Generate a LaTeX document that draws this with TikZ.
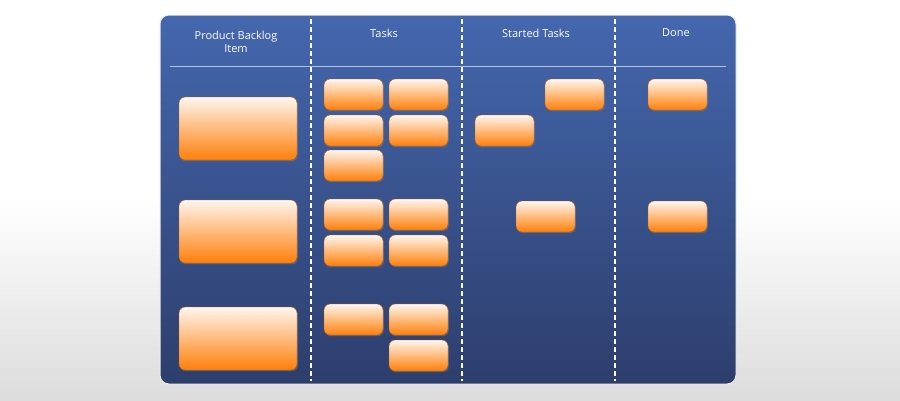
\documentclass[tikz,border=0pt]{standalone}
\usepackage{fontspec}
\setmainfont{Open Sans}
\usetikzlibrary{shadows}
\definecolor{bgtop}{HTML}{FFFFFF}
\definecolor{bgbot}{HTML}{DCDCDC}
\definecolor{boardtop}{HTML}{4467AE}
\definecolor{boardbot}{HTML}{2D3E6C}
\definecolor{cardtop}{HTML}{FFF6EE}
\definecolor{cardbot}{HTML}{FF7F0A}
\tikzset{
  px/.style={x=1pt,y=-1pt},
  card/.style={rounded corners=6pt, draw=cardbot!70!black, line width=0.4pt,
    top color=cardtop, bottom color=cardbot, drop shadow={shadow xshift=0.8pt,shadow yshift=-1.2pt,opacity=0.5}},
  head/.style={text=white, font=\fontsize{11}{13}\selectfont, align=center},
  sep/.style={white, dashed, line width=1.2pt, dash pattern=on 5pt off 3pt}
}
\begin{document}
\begin{tikzpicture}[px]
\useasboundingbox (0,0) rectangle (900,400);
\fill[white] (0,0) rectangle (900,200);
\shade[top color=bgtop, bottom color=bgbot] (0,200) rectangle (900,400);
\shade[rounded corners=9pt, top color=boardtop, bottom color=boardbot, draw=white!85!gray, line width=1pt] (160,15) rectangle (736,384);
\draw[white!60!boardtop, line width=0.5pt] (170,66) -- (726,66);
\foreach \x in {311,462,615} \draw[sep] (\x,19) -- (\x,381);
\node[head] (h1) at (236,42) {Product Backlog\\Item};
\node[head] (h2) at (384,33) {Tasks};
\node[head] (h3) at (536,33) {Started Tasks};
\node[head] (h4) at (676,33) {Done};
% backlog items
\foreach \n/\y in {b1/97,b2/200,b3/307}
  \path[card] (179,\y) rectangle ++(118,63) coordinate (\n);
% small cards
\foreach \n/\x/\y in {t1/324/79,t2/389/79,t3/324/115,t4/389/115,t5/324/150,
  t6/324/199,t7/389/199,t8/324/235,t9/389/235,t10/324/304,t11/389/304,t12/389/340,
  s1/545/79,s2/475/115,s3/516/201,d1/648/79,d2/648/201}
  \path[card] (\x,\y) rectangle ++(59,31) coordinate (\n);
\end{tikzpicture}
\end{document}
